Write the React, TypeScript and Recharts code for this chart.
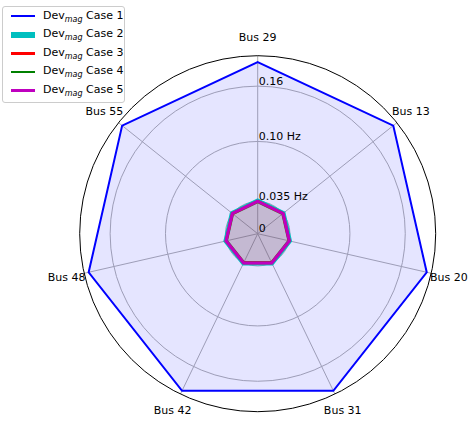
import React from "react";
import {
  RadarChart,
  Radar,
  PolarGrid,
  PolarAngleAxis,
  PolarRadiusAxis,
  Legend,
} from "recharts";

const buses = ["Bus 29", "Bus 13", "Bus 20", "Bus 31", "Bus 42", "Bus 48", "Bus 55"];

// Dev_mag per bus (Hz)
const case1 = [0.186, 0.188, 0.188, 0.189, 0.189, 0.188, 0.188];
const case2 = [0.0356, 0.0356, 0.0356, 0.0356, 0.0356, 0.0356, 0.0356];
const case3 = [0.035, 0.035, 0.035, 0.035, 0.035, 0.035, 0.035];
const case4 = [0.0348, 0.0348, 0.0348, 0.0348, 0.0348, 0.0348, 0.0348];
const case5 = [0.0352, 0.0352, 0.0352, 0.0352, 0.0352, 0.0352, 0.0352];

const caseNames = ["Case 1", "Case 2", "Case 3", "Case 4", "Case 5"];

const radialTicks = [0, 0.035, 0.1, 0.16];
const radialTickLabels = ["0", "0.035 Hz", "0.10 Hz", "0.16"];
const radialMax = 0.193;

const SERIES_STYLE = [
  { key: "c1", color: "#0000ff", width: 2, legendWidth: 2.2, fillOpacity: 0.1 },
  { key: "c2", color: "#00bfbf", width: 4.5, legendWidth: 6, fillOpacity: 0.08 },
  { key: "c3", color: "#ff0000", width: 3, legendWidth: 3.5, fillOpacity: 0.08 },
  { key: "c4", color: "#008000", width: 1.5, legendWidth: 2, fillOpacity: 0.08 },
  { key: "c5", color: "#bf00bf", width: 3, legendWidth: 3.5, fillOpacity: 0.08 },
];

const data = buses.map((bus, i) => ({
  bus,
  c1: case1[i],
  c2: case2[i],
  c3: case3[i],
  c4: case4[i],
  c5: case5[i],
}));

const FONT = "'DejaVu Sans', sans-serif";

function AngleTick(props: any) {
  const { x, y, payload } = props;
  return (
    <text x={x} y={y} textAnchor="middle" dominantBaseline="central" fontSize={11} fill="#000" fontFamily={FONT}>
      {payload.value}
    </text>
  );
}

function RadiusTick(props: any) {
  const { x, y, payload } = props;
  const idx = radialTicks.indexOf(payload.value);
  return (
    <text x={x + 1} y={y - 1.5} textAnchor="start" fontSize={11} fill="#000" fontFamily={FONT}>
      {idx >= 0 ? radialTickLabels[idx] : ""}
    </text>
  );
}

function LegendBox() {
  return (
    <div
      style={{
        width: 123,
        height: 97,
        border: "1px solid #cccccc",
        borderRadius: 3,
        background: "rgba(255,255,255,0.85)",
        fontFamily: FONT,
        fontSize: 11,
        color: "#000",
        boxSizing: "border-box",
      }}
    >
      {SERIES_STYLE.map((s, i) => (
        <div key={s.key} style={{ display: "flex", alignItems: "center", height: 18.5 }}>
          <div style={{ marginLeft: 8, width: 24, height: s.legendWidth, background: s.color }} />
          <span style={{ marginLeft: 8, whiteSpace: "nowrap" }}>
            Dev<sub style={{ fontStyle: "italic", fontSize: 8, verticalAlign: "-3px" }}>mag</sub> {caseNames[i]}
          </span>
        </div>
      ))}
    </div>
  );
}

export default function App() {
  return (
    <div style={{ position: "fixed", left: 0, top: 0, width: 474, height: 423, background: "#fff" }}>
      <RadarChart
        width={474}
        height={423}
        data={data}
        cx={257.7}
        cy={233.7}
        outerRadius={178}
        startAngle={90}
        endAngle={-270}
        margin={{ top: 0, right: 0, bottom: 0, left: 0 }}
      >
        <PolarGrid gridType="circle" stroke="#b0b0b0" strokeWidth={1} />
        <PolarAngleAxis
          dataKey="bus"
          axisLineType="circle"
          axisLine={{ stroke: "#000", strokeWidth: 1 }}
          tickLine={false}
          tickSize={18}
          tick={<AngleTick />}
        />
        <PolarRadiusAxis
          angle={90}
          domain={[0, radialMax]}
          ticks={radialTicks as any}
          axisLine={false}
          tickLine={false}
          tick={<RadiusTick />}
        />
        {SERIES_STYLE.map((s, i) => (
          <Radar
            key={s.key}
            dataKey={s.key}
            name={caseNames[i]}
            stroke={s.color}
            strokeWidth={s.width}
            fill={s.color}
            fillOpacity={s.fillOpacity}
            dot={false}
            isAnimationActive={false}
          />
        ))}
        <Legend
          layout="vertical"
          align="left"
          verticalAlign="top"
          content={() => <LegendBox />}
          wrapperStyle={{ position: "absolute", left: 2, top: 6, width: 123 }}
        />
      </RadarChart>
    </div>
  );
}
